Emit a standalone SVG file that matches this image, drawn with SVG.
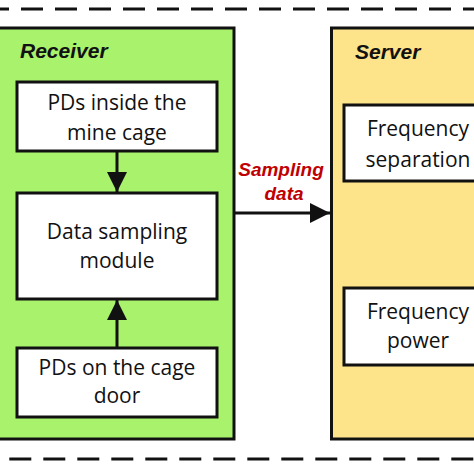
<svg xmlns="http://www.w3.org/2000/svg" width="474" height="474" viewBox="0 0 474 474">
<defs>
<style>
.dash{stroke:#111;stroke-width:3;stroke-dasharray:22 12;fill:none}
.grp{stroke:#111;stroke-width:3}
.box{fill:#fff;stroke:#111;stroke-width:3}
.t{font-family:"Open Sans","Liberation Sans",sans-serif;font-size:21px;fill:#111;text-anchor:middle}
.h{font-family:"Liberation Sans",Arial,sans-serif;font-size:21px;font-weight:bold;font-style:italic;fill:#111}
.lbl{font-family:"Liberation Sans",Arial,sans-serif;font-size:19px;font-weight:bold;font-style:italic;fill:#c00000;text-anchor:middle}
.con{stroke:#111;stroke-width:3;fill:none}
</style>
<marker id="ah" viewBox="0 0 10 10" refX="10" refY="5" markerWidth="20" markerHeight="20" markerUnits="userSpaceOnUse" orient="auto">
<path d="M0,0 L10,5 L0,10 Z" fill="#111"/>
</marker>
</defs>
<line class="dash" x1="0" y1="9" x2="474" y2="9" stroke-dashoffset="13"/>
<line class="dash" x1="0" y1="459" x2="474" y2="459" stroke-dashoffset="24.7"/>
<g id="receiver">
<rect class="grp" x="-3" y="28" width="237" height="411" fill="#a9f26c"/>
<text class="h" x="20" y="58">Receiver</text>
</g>
<g id="server">
<rect class="grp" x="331.5" y="28" width="150" height="411" fill="#fde38a"/>
<text class="h" x="355" y="59">Server</text>
</g>
<g id="pds-inside">
<rect class="box" x="17" y="82" width="200" height="69"/>
<text class="t" x="117" y="110">PDs inside the</text>
<text class="t" x="117" y="140">mine cage</text>
</g>
<g id="data-sampling">
<rect class="box" x="17" y="193" width="200" height="106"/>
<text class="t" x="117" y="239">Data sampling</text>
<text class="t" x="117" y="268">module</text>
</g>
<g id="pds-door">
<rect class="box" x="17" y="348" width="200" height="69"/>
<text class="t" x="117" y="375">PDs on the cage</text>
<text class="t" x="117" y="403">door</text>
</g>
<g id="freq-sep">
<rect class="box" x="344" y="105" width="150" height="76"/>
<text class="t" x="418" y="136">Frequency</text>
<text class="t" x="418" y="167">separation</text>
</g>
<g id="freq-power">
<rect class="box" x="344" y="288" width="150" height="77"/>
<text class="t" x="418" y="319">Frequency</text>
<text class="t" x="418" y="348">power</text>
</g>
<g id="connectors">
<line class="con" x1="117" y1="152" x2="117" y2="192" marker-end="url(#ah)"/>
<line class="con" x1="117" y1="347" x2="117" y2="300" marker-end="url(#ah)"/>
<line class="con" x1="235" y1="213" x2="330" y2="213" marker-end="url(#ah)"/>
<text class="lbl" x="281" y="176">Sampling</text>
<text class="lbl" x="284" y="200">data</text>
</g>
</svg>
